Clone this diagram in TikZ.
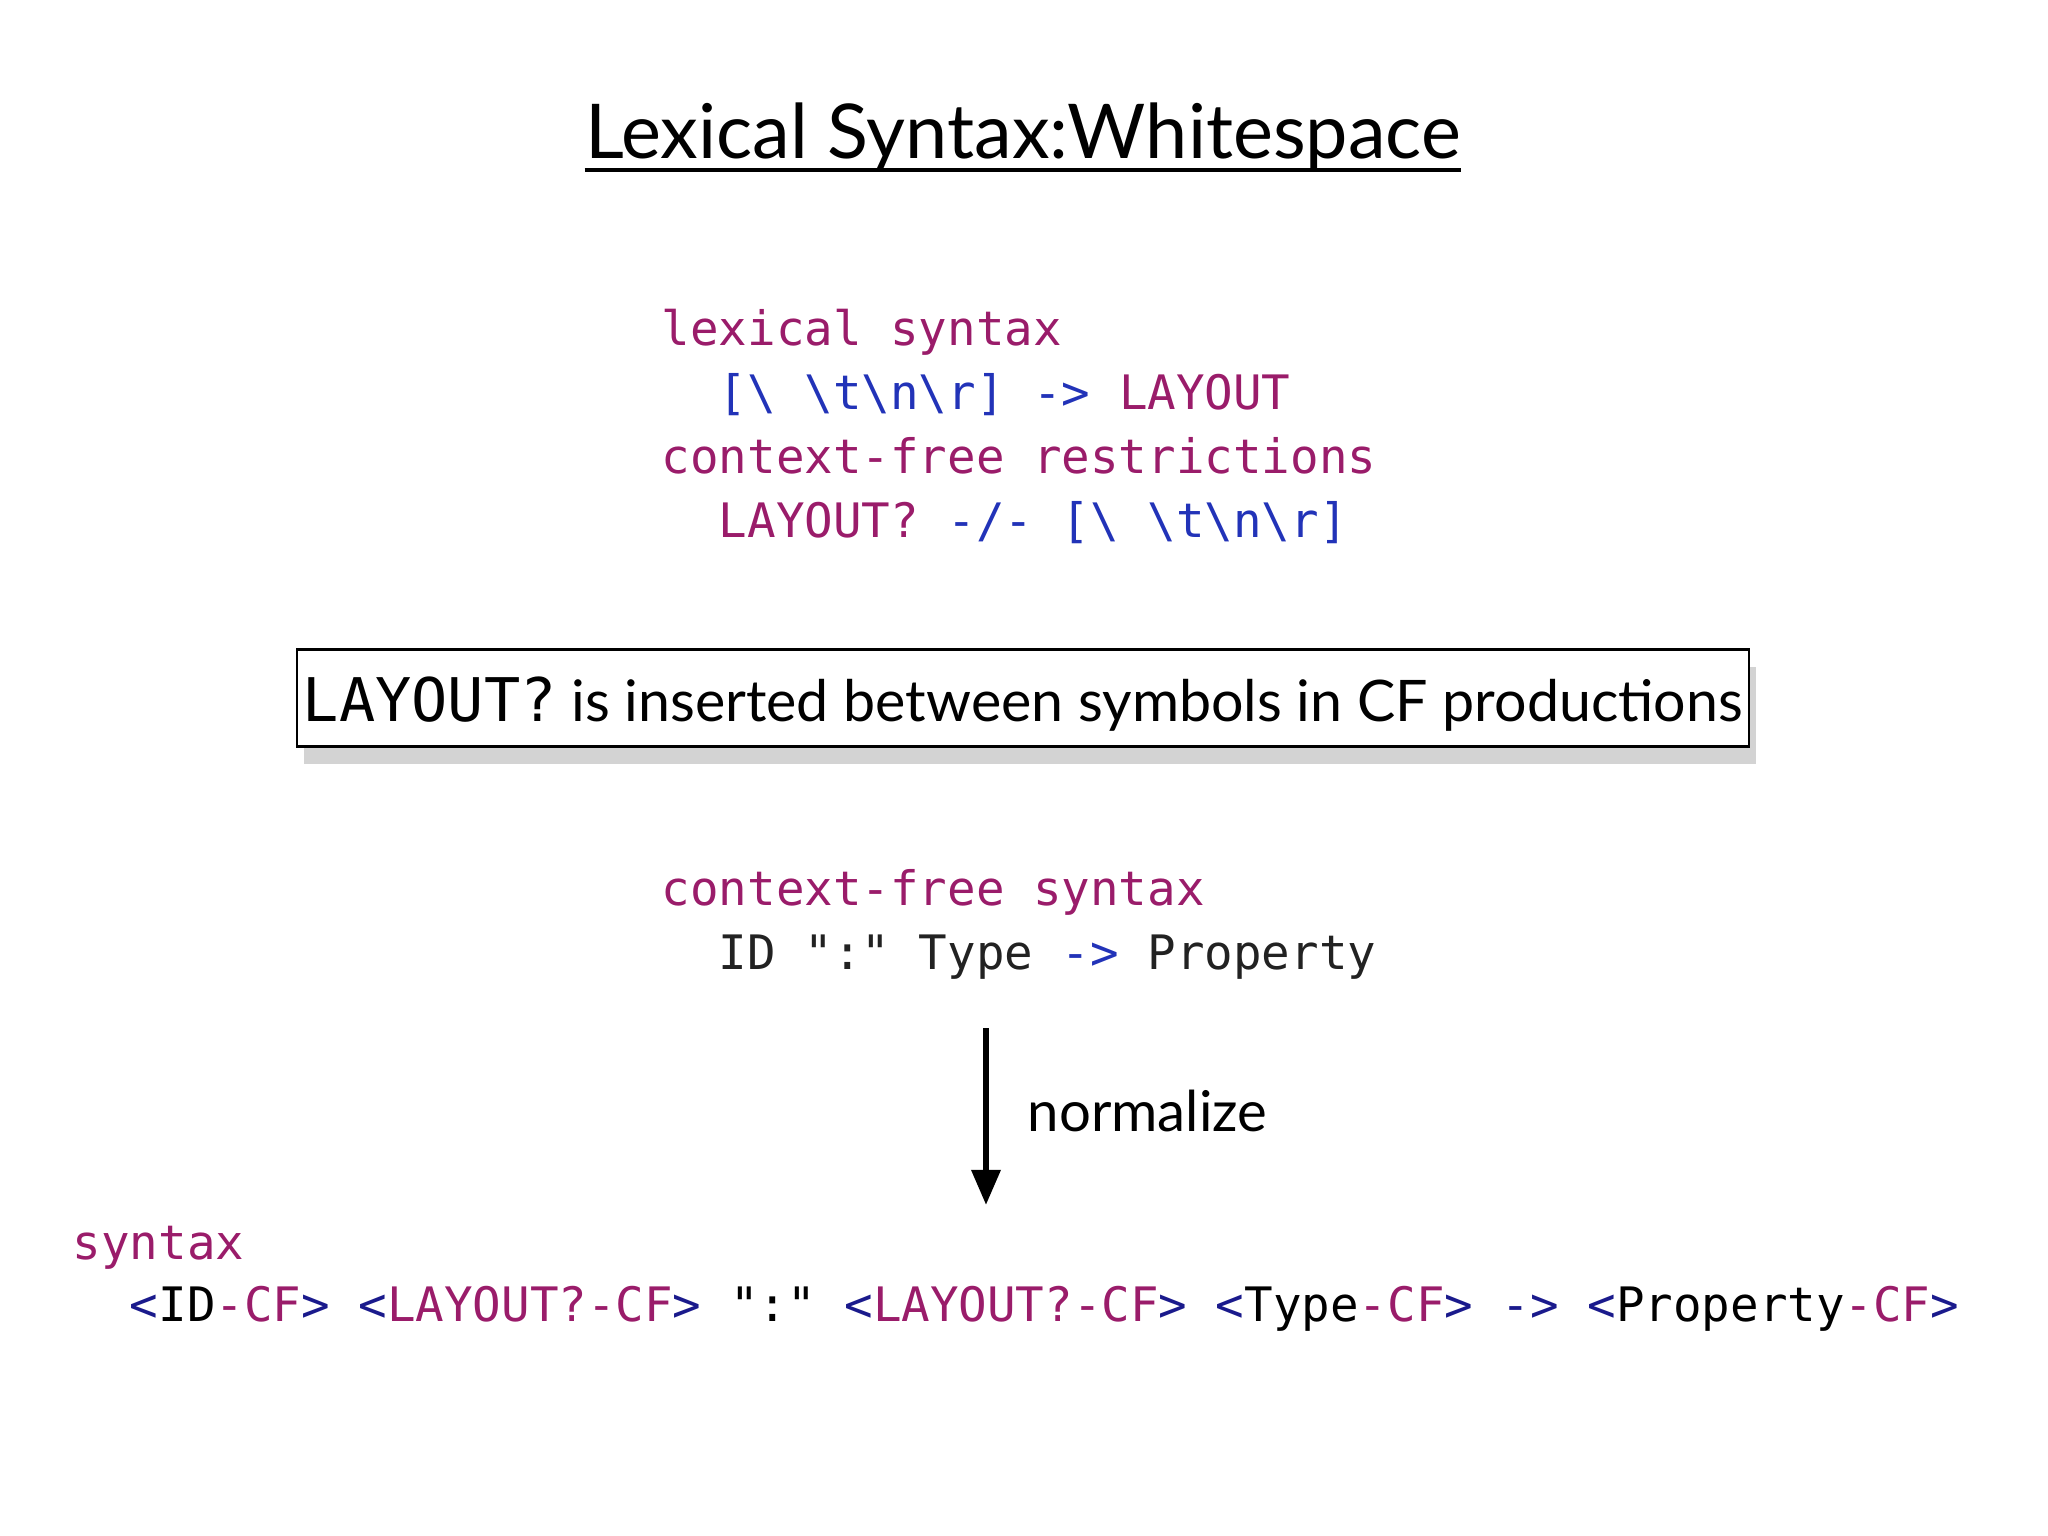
\documentclass[tikz,border=0pt]{standalone}
\usepackage{fontspec}
\setmainfont{Lato}
\setmonofont{DejaVu Sans Mono}
\usetikzlibrary{shadows,arrows.meta}
\definecolor{kw}{HTML}{9A1C6A}
\definecolor{bl}{HTML}{2233B8}
\definecolor{nv}{HTML}{1A1A8C}
\definecolor{tx}{HTML}{222222}
\tikzset{code/.style={anchor=base west,inner sep=0pt,font=\fontsize{13.5}{16}\ttfamily}}
\begin{document}
\begin{tikzpicture}[x=0.01cm,y=-0.01cm]
\useasboundingbox (0,0) rectangle (2048,1536);
\node[inner sep=0pt,font=\fontsize{21.5}{26}\selectfont] (title) at (1023,137) {Lexical Syntax:Whitespace};
\draw[line width=1.4pt] (title.south west) ++(0,-2) coordinate (u1) (title.south east) ++(0,-2) coordinate (u2);
\draw[line width=1.4pt] (u1) -- (u2);
\node[code] (l1) at (661,345) {\color{kw}lexical syntax};
\node[code] (l2) at (661,409) {\color{bl}\ \ [\textbackslash\ \textbackslash t\textbackslash n\textbackslash r] -> \color{kw}LAYOUT};
\node[code] (l3) at (661,473) {\color{kw}context-free restrictions};
\node[code] (l4) at (661,537) {\ \ \color{kw}LAYOUT? \color{bl}-/- [\textbackslash\ \textbackslash t\textbackslash n\textbackslash r]};
\node[draw,thick,fill=white,drop shadow={shadow xshift=2pt,shadow yshift=-5pt,opacity=0.35},minimum width=14.51cm,minimum height=0.97cm,inner sep=0pt] (box) at (1023,698) {};
\node[inner sep=0pt,font=\fontsize{16.3}{20}\selectfont] (boxtext) at (1023,704) {{\fontspec{DejaVu Sans Mono}[Scale=1.05]LAYOUT?} is inserted between symbols in CF productions};
\node[code] (c1) at (661,905) {\color{kw}context-free syntax};
\node[code] (c2) at (661,969) {\color{tx}\ \ ID ":" Type \color{bl}-> \color{tx}Property};
\coordinate (a1) at (986,1028);
\coordinate (a2) at (986,1205);
\draw[line width=1.8pt,-{Triangle[length=10pt,width=8pt]}] (a1) -- (a2);
\node[anchor=west,inner sep=0pt,font=\fontsize{16}{20}\selectfont] (norm) at (1027,1111) {normalize};
\node[code] (s1) at (72,1259) {\color{kw}syntax};
\node[code] (s2) at (72,1321) {\ \ \color{nv}<\color{black}ID\color{kw}-CF\color{nv}> <\color{kw}LAYOUT?-CF\color{nv}> \color{black}":" \color{nv}<\color{kw}LAYOUT?-CF\color{nv}> <\color{black}Type\color{kw}-CF\color{nv}> -> <\color{black}Property\color{kw}-CF\color{nv}>};
\end{tikzpicture}
\end{document}
